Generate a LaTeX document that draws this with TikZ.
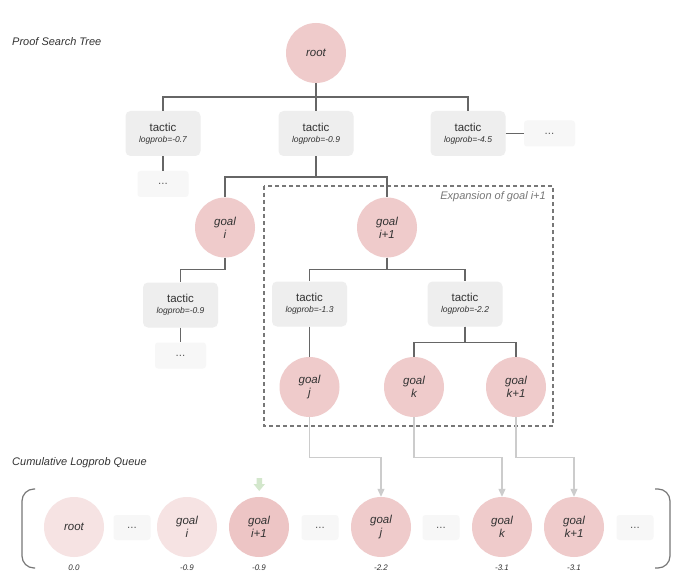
\documentclass[tikz,border=0pt]{standalone}
\usepackage{fontspec}
\setmainfont{Liberation Sans}
\usetikzlibrary{arrows.meta}
\definecolor{pinkc}{HTML}{EFCBCB}
\definecolor{pinkdark}{HTML}{EDC5C5}
\definecolor{pinklight}{HTML}{F6E3E3}
\definecolor{tacfill}{HTML}{EEEEEE}
\definecolor{dotsfill}{HTML}{F7F7F7}
\definecolor{txt}{HTML}{333333}
\definecolor{linec}{HTML}{666666}
\definecolor{qlinec}{HTML}{CCCCCC}
\definecolor{greenc}{HTML}{D3E7CC}
\definecolor{dashc}{HTML}{777777}
\newcommand{\lpr}[1]{tactic\\[-1pt]{\fontsize{8.5}{10}\selectfont\itshape logprob=#1}}
\begin{document}
\begin{tikzpicture}[x=1pt,y=-1pt,
  goalnode/.style={circle, fill=pinkc, minimum size=60pt, inner sep=0pt, align=center,
    font=\fontsize{11.5}{13}\selectfont\itshape, text=txt},
  lightgoal/.style={goalnode, fill=pinklight},
  tacticnode/.style={rectangle, rounded corners=5pt, fill=tacfill, minimum width=75pt,
    minimum height=45pt, inner sep=0pt, align=center, font=\fontsize{11.5}{12}\selectfont, text=txt},
  dotsnode/.style={rectangle, rounded corners=3pt, fill=dotsfill, minimum width=51pt,
    minimum height=26pt, inner sep=0pt, font=\fontsize{11.5}{13}\selectfont, text=txt!80},
  qdots/.style={dotsnode, minimum width=37pt, minimum height=25pt},
  treeline/.style={draw=linec, line width=1.4pt},
  qline/.style={draw=qlinec, line width=1.1pt, -{Triangle[width=7pt,length=8pt]}},
  qlabel/.style={font=\fontsize{8}{10}\selectfont\itshape, text=txt, inner sep=0pt},
  title/.style={font=\fontsize{11}{13}\selectfont\itshape, text=txt, anchor=west, inner sep=0pt}
]
\useasboundingbox[fill=white] (0,0) rectangle (685,588);

\node[title] (ttree) at (12,42) {Proof Search Tree};
\node[title] (tqueue) at (12,463) {Cumulative Logprob Queue};

% tree
\node[goalnode] (root) at (316,53) {root};
\node[tacticnode] (t1) at (163,133.5) {\lpr{-0.7}};
\node[tacticnode] (t2) at (316,133.5) {\lpr{-0.9}};
\node[tacticnode] (t3) at (468,133.5) {\lpr{-4.5}};
\node[dotsnode] (d1) at (163,184) {...};
\node[dotsnode] (d3) at (549.5,133.5) {...};
\node[goalnode] (gi) at (225,227.5) {goal\\i};
\node[goalnode] (gip) at (387,227.5) {goal\\i+1};
\node[tacticnode] (t4) at (180.5,305) {\lpr{-0.9}};
\node[dotsnode] (d4) at (180.5,355.5) {...};
\node[tacticnode] (t5) at (309.5,304) {\lpr{-1.3}};
\node[tacticnode] (t6) at (465,304) {\lpr{-2.2}};
\node[goalnode] (gj) at (309.5,387) {goal\\j};
\node[goalnode] (gk) at (414,387) {goal\\k};
\node[goalnode] (gk1) at (516,387) {goal\\k+1};

\draw[dashc, line width=1.1pt, dash pattern=on 4pt off 3pt] (264,186) rectangle (553,426);
\node[font=\fontsize{11}{13}\selectfont\itshape, text=dashc, anchor=east, inner sep=0pt] (exp) at (546,196.5) {Expansion of goal i+1};

\draw[treeline] (root.south) -- ++(0,14) -| (t1.north);
\draw[treeline] (root.south) -- ++(0,14) -| (t3.north);
\draw[treeline] (root.south) -- (t2.north);
\draw[treeline] (t1.south) -- (d1.north);
\draw[treeline] (t3.east) -- (d3.west);
\draw[treeline] (t2.south) -- ++(0,21) -| (gi.north);
\draw[treeline] (t2.south) -- ++(0,21) -| (gip.north);
\draw[treeline] (gi.south) -- ++(0,11.5) -| (t4.north);
\draw[treeline] (t4.south) -- (d4.north);
\draw[treeline] (gip.south) -- ++(0,11.5) -| (t5.north);
\draw[treeline] (gip.south) -- ++(0,11.5) -| (t6.north);
\draw[treeline] (t5.south) -- (gj.north);
\draw[treeline] (t6.south) -- ++(0,16) -| (gk.north);
\draw[treeline] (t6.south) -- ++(0,16) -| (gk1.north);

% queue
\node[lightgoal] (qroot) at (74,527) {root};
\node[qdots] (qd1) at (132,527.5) {...};
\node[lightgoal] (qi) at (187,527) {goal\\i};
\node[goalnode, fill=pinkdark] (qip) at (259,527) {goal\\i+1};
\node[qdots] (qd2) at (320,527.5) {...};
\node[goalnode] (qj) at (381,527) {goal\\j};
\node[qdots] (qd3) at (441,527.5) {...};
\node[goalnode] (qk) at (502,527) {goal\\k};
\node[goalnode] (qk1) at (574,527) {goal\\k+1};
\node[qdots] (qd4) at (635,527.5) {...};

\node[qlabel] (l1) at (74,568) {0.0};
\node[qlabel] (l2) at (187,568) {-0.9};
\node[qlabel] (l3) at (259,568) {-0.9};
\node[qlabel] (l4) at (381,568) {-2.2};
\node[qlabel] (l5) at (502,568) {-3.1};
\node[qlabel] (l6) at (574,568) {-3.1};

\draw[qline] (gj.south) -- ++(0,40) -| (qj.north);
\draw[qline] (gk.south) -- ++(0,40) -| (qk.north);
\draw[qline] (gk1.south) -- ++(0,40) -| (qk1.north);

% green marker arrow
\fill[greenc] (256.5,478) -- (262,478) -- (262,484) -- (265,484) -- (259.25,491) -- (253.5,484) -- (256.5,484) -- cycle;

% brackets
\draw[dashc, line width=1.2pt, rounded corners=12pt] (35,489) -- (22,489) -- (22,568) -- (35,568);
\draw[dashc, line width=1.2pt, rounded corners=12pt] (655,489) -- (670,489) -- (670,568) -- (655,568);
\end{tikzpicture}
\end{document}
